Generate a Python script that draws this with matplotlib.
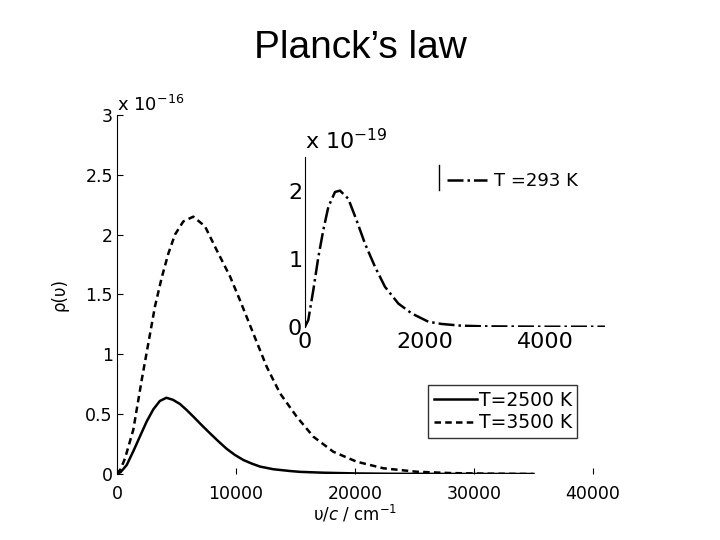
import matplotlib.pyplot as plt
from matplotlib.lines import Line2D

# wavenumber (cm^-1) and spectral density (x 1e-16)
nu_2500 = [0, 300, 815, 1370, 2000, 2500, 3050, 3600, 4150, 4700, 5290, 5850,
           6410, 7100, 7815, 8500, 9220, 9900, 10620, 11300, 12020, 13130,
           14540, 15380, 17310, 20000, 23000, 27000, 35000]
rho_2500 = [0, 0.015, 0.075, 0.19, 0.33, 0.44, 0.54, 0.61, 0.637, 0.62, 0.585,
            0.535, 0.48, 0.41, 0.34, 0.275, 0.21, 0.16, 0.117, 0.088, 0.062,
            0.04, 0.025, 0.018, 0.011, 0.005, 0.002, 0.001, 0.0]

nu_3500 = [0, 300, 672, 1370, 2075, 2630, 3190, 3756, 4310, 4870, 5570, 6410,
           7390, 8380, 9500, 10340, 11450, 12580, 13700, 15100, 16500, 18180,
           20140, 22380, 25180, 28000, 31000, 35000]
rho_3500 = [0, 0.04, 0.13, 0.37, 0.785, 1.09, 1.40, 1.64, 1.84, 2.0, 2.11,
            2.15, 2.07, 1.87, 1.65, 1.45, 1.175, 0.896, 0.674, 0.479, 0.312,
            0.186, 0.103, 0.048, 0.019, 0.008, 0.003, 0.0]

# inset, T = 293 K (x 1e-19)
nu_293 = [0, 55, 139, 222, 305, 389, 500, 583, 722, 861, 1000, 1167, 1333,
          1556, 1778, 2056, 2278, 2600, 3000, 4000, 5000]
rho_293 = [0, 0.098, 0.54, 1.02, 1.42, 1.76, 1.98, 2.0, 1.88, 1.56, 1.22,
           0.88, 0.586, 0.34, 0.195, 0.073, 0.04, 0.015, 0.005, 0.0, 0.0]

main_xticks = [0, 10000, 20000, 30000, 40000]
main_yticks = [0, 0.5, 1, 1.5, 2, 2.5, 3]
inset_xticks = [0, 2000, 4000]
inset_yticks = [0, 1, 2]

fig = plt.figure(figsize=(7.2, 5.4), dpi=100)

fig.text(0.5, 0.912, 'Planck\u2019s law', ha='center', va='center',
         fontsize=28, family='Liberation Sans')

ax = fig.add_axes([0.1625, 0.1222, 0.6611, 0.665])
ax.plot(nu_2500, rho_2500, 'k-', lw=1.8, label='T=2500 K',
        solid_joinstyle='round')
ax.plot(nu_3500, rho_3500, 'k--', lw=1.8, dashes=(2.6, 1.7), label='T=3500 K')
ax.set_xlim(0, 40000)
ax.set_ylim(0, 3)
ax.set_xticks(main_xticks)
ax.set_xticklabels([str(t) for t in main_xticks])
ax.set_yticks(main_yticks)
ax.set_yticklabels(['0', '0.5', '1', '1.5', '2', '2.5', '3'])
for s in ['top', 'right', 'bottom']:
    ax.spines[s].set_visible(False)
ax.tick_params(direction='in', length=4, labelsize=12.5)
ax.tick_params(axis='x', pad=8)
ax.tick_params(axis='y', pad=3)
ax.set_xlabel('\u03c5/$c$ / cm$^{-1}$', fontsize=12, labelpad=0)
ax.set_ylabel('\u03c1(\u03c5)', fontsize=12, labelpad=12)
ax.text(0.0, 1.0, 'x 10$^{-16}$', transform=ax.transAxes, fontsize=13,
        ha='left', va='bottom')
leg = ax.legend(loc='lower right', bbox_to_anchor=(0.967, 0.1), fontsize=13.5,
                frameon=True, fancybox=False, handlelength=2.3,
                handletextpad=0.1, borderpad=0.3, labelspacing=0.2,
                borderaxespad=0)
leg.get_frame().set_edgecolor('black')
leg.get_frame().set_linewidth(1.0)

ins = fig.add_axes([0.4236, 0.395, 0.4167, 0.315])
ins.plot(nu_293, rho_293, 'k-.', lw=1.8, label='T =293 K')
ins.set_xlim(0, 5000)
ins.set_ylim(0, 2.5)
ins.set_xticks(inset_xticks)
ins.set_xticklabels([str(t) for t in inset_xticks])
ins.set_yticks(inset_yticks)
ins.set_yticklabels([str(t) for t in inset_yticks])
for s in ['top', 'right', 'bottom']:
    ins.spines[s].set_visible(False)
ins.patch.set_alpha(0)
ins.tick_params(length=0, labelsize=16)
ins.tick_params(axis='x', pad=4)
ins.tick_params(axis='y', pad=2)
ins.text(0.0, 1.02, 'x 10$^{-19}$', transform=ins.transAxes, fontsize=16,
         ha='left', va='bottom')
ins.legend(loc='upper right', bbox_to_anchor=(0.935, 0.95), fontsize=13,
           frameon=False, handlelength=2.2, handletextpad=0.4, borderaxespad=0)
fig.add_artist(Line2D([0.61, 0.61], [0.648, 0.694], color='black', lw=1))

fig.savefig('out.png', dpi=100)
